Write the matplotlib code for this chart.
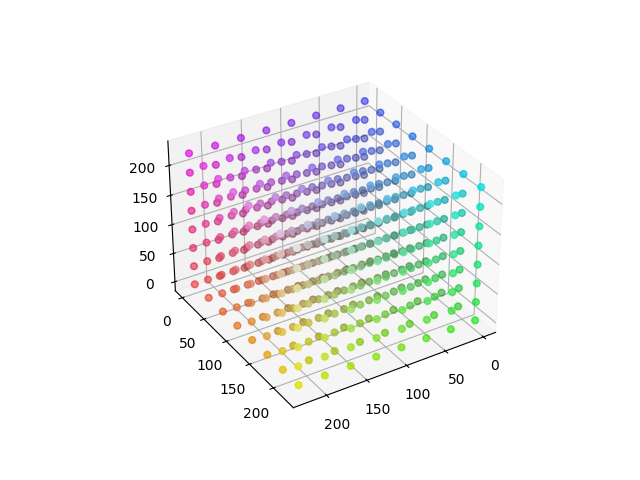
import matplotlib
matplotlib.use("Agg")
import matplotlib.pyplot as plt

levels = [0, 32, 64, 96, 128, 160, 192, 224]

r = []
g = []
b = []
for rv in levels:
    for gv in levels:
        for bv in levels:
            r.append(rv)
            g.append(gv)
            b.append(bv)

colors = [(rv / 255, gv / 255, bv / 255) for rv, gv, bv in zip(r, g, b)]

fig = plt.figure()
ax = fig.add_subplot(111, projection='3d')
ax.scatter(r, g, b, c=colors, s=24)
ax.view_init(elev=32, azim=58)
plt.savefig('out.png')
